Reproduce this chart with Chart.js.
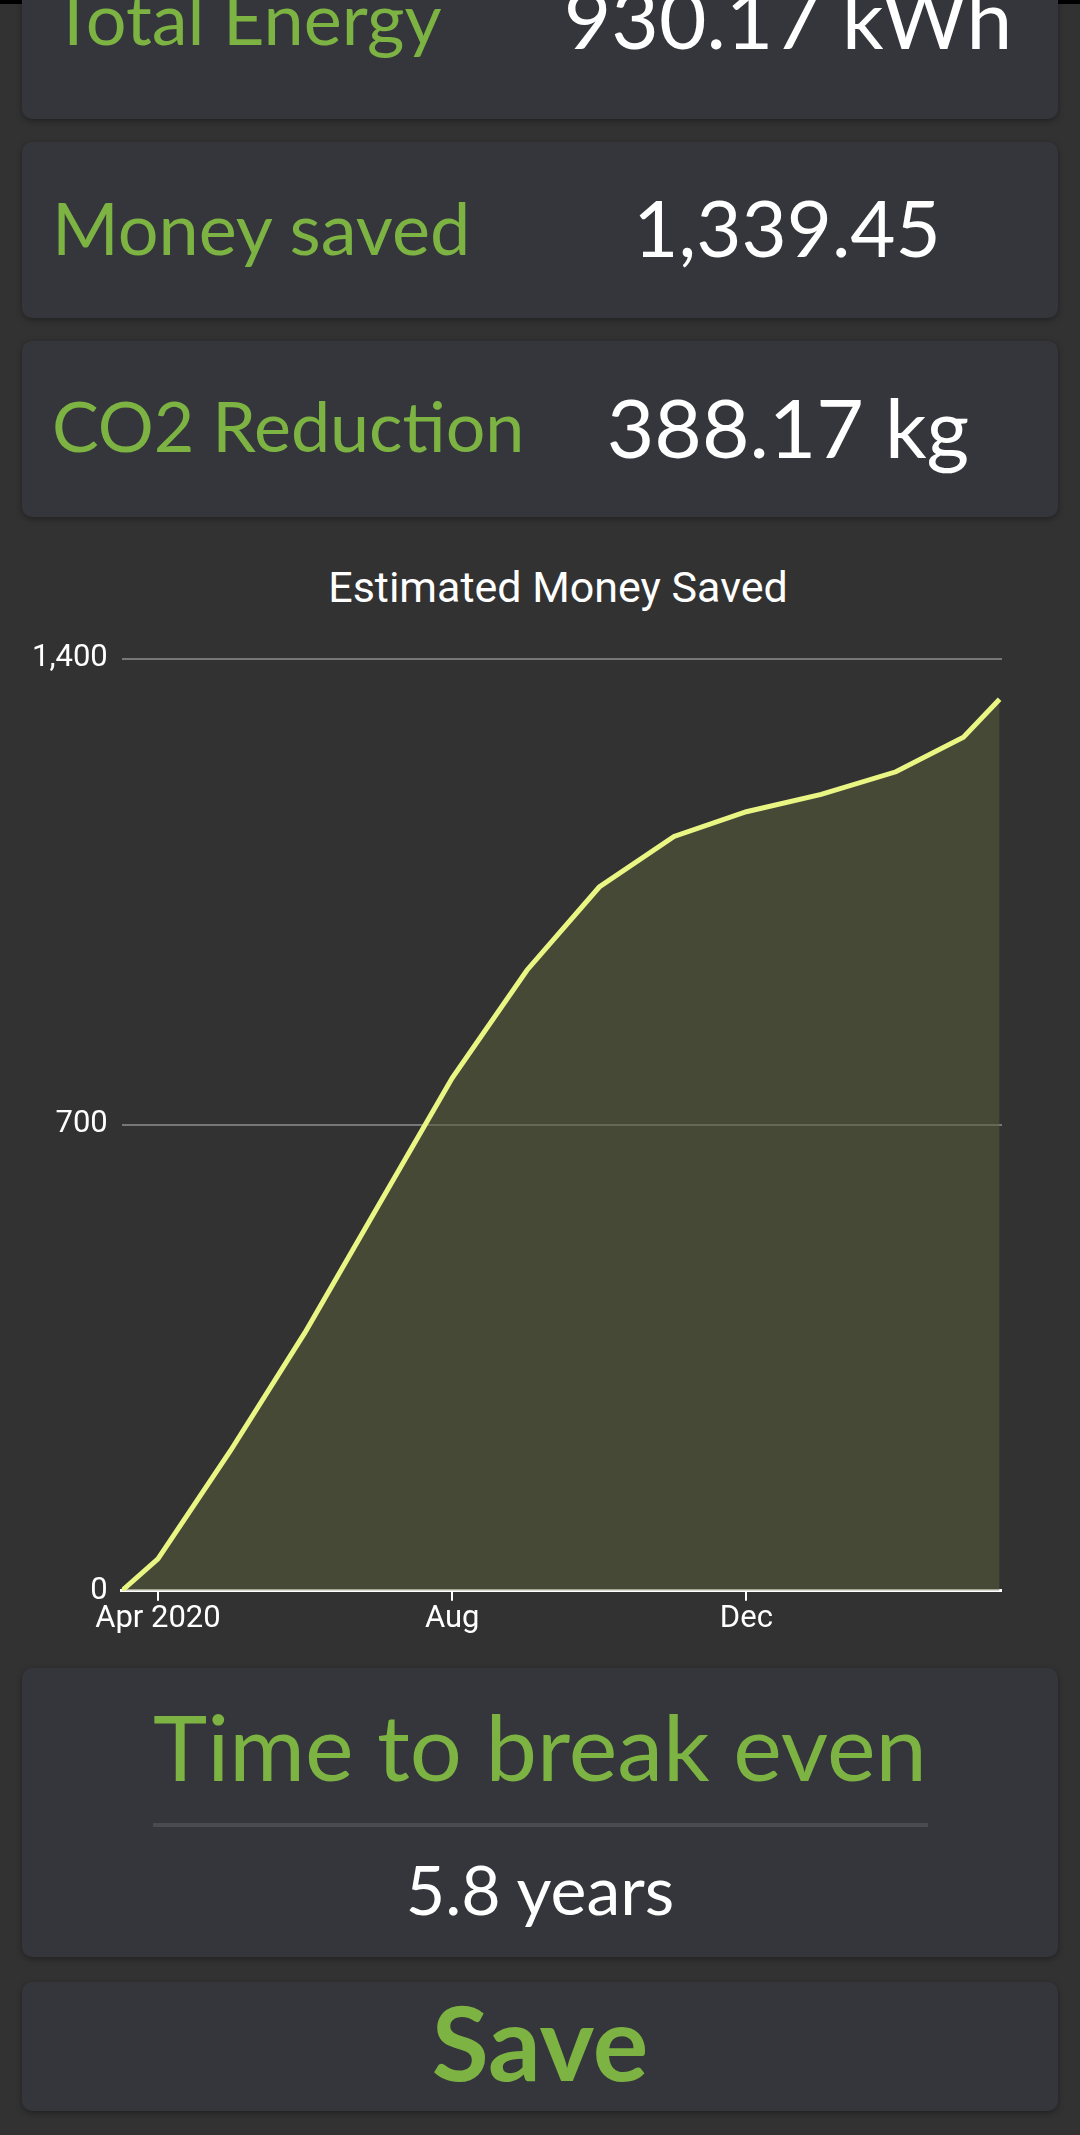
<!DOCTYPE html>
<html><head><meta charset="utf-8">
<script src="https://cdn.jsdelivr.net/npm/chart.js@4/dist/chart.umd.min.js"></script>
<style>
html,body{margin:0;padding:0;width:1080px;height:2135px;background:#323232;overflow:hidden;font-family:Lato,sans-serif;}
.topbar{position:absolute;left:0;top:0;width:1080px;height:4px;background:#000;}
.card{position:absolute;left:22px;width:1036px;background:#35363b;border-radius:10px;box-shadow:0 2px 6px rgba(0,0,0,0.35);overflow:hidden;}
.lab{position:absolute;left:30px;color:#7cb342;font-size:72px;font-weight:400;white-space:nowrap;}
.val{position:absolute;color:#fff;font-size:82px;font-weight:400;white-space:nowrap;transform:translateX(-50%);}
.center{position:absolute;left:0;width:100%;text-align:center;white-space:nowrap;}
#title{position:absolute;left:258px;width:600px;top:561px;text-align:center;color:#fff;font-family:Roboto,sans-serif;font-size:43px;line-height:52px;}
#wrap{position:absolute;left:18px;top:626px;width:984px;height:1012px;}
</style></head><body>
<div class="topbar"></div>
<div class="card" style="top:-20px;height:139px;">
  <div class="lab" style="top:-6px;">Total Energy</div>
  <div class="val" style="left:766px;top:-12px;">930.17 kWh</div>
</div>
<div class="card" style="top:142px;height:176px;">
  <div class="lab" style="top:42px;">Money saved</div>
  <div class="val" style="left:765px;top:38px;font-size:78px;">1,339.45</div>
</div>
<div class="card" style="top:341px;height:176px;">
  <div class="lab" style="top:42px;font-size:70px;">CO2 Reduction</div>
  <div class="val" style="left:766px;top:36px;">388.17 kg</div>
</div>
<div id="title">Estimated Money Saved</div>
<div id="wrap"><canvas id="c"></canvas></div>
<div class="card" style="top:1668px;height:289px;">
  <div class="center" style="top:22px;color:#7cb342;font-size:92px;">Time to break even</div>
  <div style="position:absolute;left:131px;top:155px;width:775px;height:4px;background:#4a4b50;"></div>
  <div class="center" style="top:180px;color:#fff;font-size:68px;">5.8 years</div>
</div>
<div class="card" style="top:1982px;height:129px;">
  <div class="center" style="top:-4px;color:#7cb342;font-size:104px;font-weight:700;">Save</div>
</div>
<script>
const dayOffsets=[-15,0,30,61,91,122,153,183,214,244,275,306,334,349];
const moneySaved=[0,48,210,388,576,770,932,1057,1133,1170,1196,1230,1282,1339];
const tickDays=[0,122,244];
const tickLabels=["Apr 2020","Aug","Dec"];
const yTicks=[0,700,1400];
const pts=dayOffsets.map((d,i)=>({x:d,y:moneySaved[i]}));
new Chart(document.getElementById('c'),{
  type:'line',
  data:{datasets:[{data:pts,borderColor:'#eaf684',backgroundColor:'rgba(90,92,60,0.55)',fill:'origin',borderWidth:5,pointRadius:0,tension:0}]},
  options:{
    responsive:true,maintainAspectRatio:false,animation:false,
    layout:{padding:{left:0,right:0,top:6,bottom:0}},
    plugins:{legend:{display:false},tooltip:{enabled:false},title:{display:false}},
    scales:{
      x:{type:'linear',min:-15,max:350,
        afterBuildTicks:(a)=>{a.ticks=tickDays.map(v=>({value:v}));},
        ticks:{color:'#fff',font:{family:'Roboto',size:31},padding:0,maxRotation:0,autoSkip:false,
          callback:(v)=>{const i=tickDays.indexOf(v);return i>=0?tickLabels[i]:'';}},
        grid:{drawOnChartArea:false,drawTicks:true,tickLength:10,color:'#fff',lineWidth:2},
        border:{display:true,color:'#fff',width:3}},
      y:{min:0,max:1400,
        afterBuildTicks:(a)=>{a.ticks=yTicks.map(v=>({value:v}));},
        ticks:{color:'#fff',font:{family:'Roboto',size:31},padding:14,
          callback:(v)=>v.toLocaleString('en-US')},
        grid:{color:'#777',lineWidth:2,drawTicks:false},
        border:{display:false}}
    }
  }
});
</script>
</body></html>
